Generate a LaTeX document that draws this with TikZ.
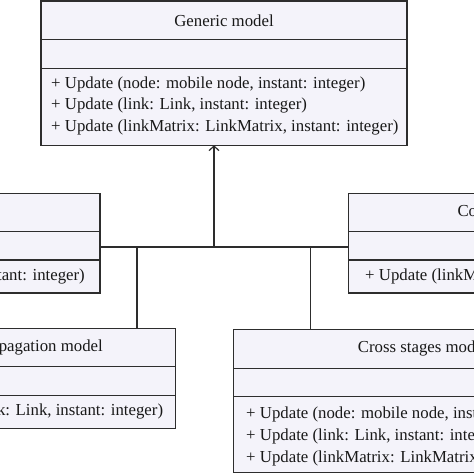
\documentclass[tikz,border=0pt]{standalone}
\usepackage{fontspec}
\setmainfont{Liberation Serif}
\usetikzlibrary{positioning,arrows.meta}
\definecolor{umlfill}{RGB}{244,243,250}
\definecolor{umlline}{RGB}{45,45,45}
\tikzset{
  umlbox/.style={draw=umlline, fill=umlfill, line width=1.3pt, rectangle, inner sep=0pt, outer sep=0pt},
  umltext/.style={font=\fontsize{16.8}{21.8}\selectfont, inner sep=0pt, align=left, text=black!90},
  conn/.style={draw=umlline, line width=1.2pt}
}
\begin{document}
\begin{tikzpicture}[x=1pt, y=-1pt]
  \useasboundingbox (0,0) rectangle (474,474);
  \fill[white] (0,0) rectangle (474,474);
  \clip (0,0) rectangle (474,474);
  % generic class on top
  \node[umlbox, anchor=north west, minimum width=366, minimum height=38.3] (gen-title) at (41,1) {};
  \node[umlbox, below=0pt of gen-title, minimum width=366, minimum height=29] (gen-attr) {};
  \node[umlbox, below=0pt of gen-attr, minimum width=366, minimum height=77] (gen-ops) {};
  \node[umltext] (gen-name) at ([yshift=-1]gen-title.center) {Generic model};
  \node[umltext, anchor=west] (gen-meth) at ([xshift=10, yshift=1]gen-ops.west)
    {+ Update (node: mobile node, instant: integer)\\
     + Update (link: Link, instant: integer)\\
     + Update (linkMatrix: LinkMatrix, instant: integer)};
  % middle row
  \node[umlbox, anchor=north east, minimum width=140, minimum height=38.2] (lm-title) at (100,193.5) {};
  \node[umlbox, below=0pt of lm-title, minimum width=140, minimum height=28.3] (lm-attr) {};
  \node[umlbox, below=0pt of lm-attr, minimum width=140, minimum height=33] (lm-ops) {};
  \node[umltext, anchor=east] (lm-meth) at ([xshift=-15]lm-ops.east) {+ Update (node: mobile node, instant: integer)};
  \node[umlbox, anchor=north west, minimum width=200, minimum height=38.2] (rm-title) at (348.3,193.5) {};
  \node[umlbox, below=0pt of rm-title, minimum width=200, minimum height=28.3] (rm-attr) {};
  \node[umlbox, below=0pt of rm-attr, minimum width=200, minimum height=33] (rm-ops) {};
  \node[umltext, anchor=west] (rm-name) at ([xshift=109]rm-title.west) {Connectivity model};
  \node[umltext, anchor=west] (rm-meth) at ([xshift=16.7]rm-ops.west) {+ Update (linkMatrix: LinkMatrix, instant: integer)};
  % bottom row
  \node[umlbox, anchor=north east, minimum width=220, minimum height=38.2] (bl-title) at (175.7,328.5) {};
  \node[umlbox, below=0pt of bl-title, minimum width=220, minimum height=28.6] (bl-attr) {};
  \node[umlbox, below=0pt of bl-attr, minimum width=220, minimum height=33.2] (bl-ops) {};
  \node[umltext, anchor=east] (bl-name) at ([xshift=-72.7]bl-title.east) {Propagation model};
  \node[umltext, anchor=east] (bl-meth) at ([xshift=-12.4]bl-ops.east) {+ Update (link: Link, instant: integer)};
  \node[umlbox, anchor=north west, minimum width=300, minimum height=38.8] (br-title) at (233.3,329.5) {};
  \node[umlbox, below=0pt of br-title, minimum width=300, minimum height=28.4] (br-attr) {};
  \node[umlbox, below=0pt of br-attr, minimum width=300, minimum height=75.8] (br-ops) {};
  \node[umltext, anchor=west] (br-name) at ([xshift=124.4]br-title.west) {Cross stages model};
  \node[umltext, anchor=west] (br-meth) at ([xshift=12.7, yshift=-2]br-ops.west)
    {+ Update (node: mobile node, instant: integer)\\
     + Update (link: Link, instant: integer)\\
     + Update (linkMatrix: LinkMatrix, instant: integer)};
  % generalisation tree
  \coordinate (hub) at (214,247);
  \coordinate (bl-x) at (137,0);
  \coordinate (br-x) at (310.7,0);
  \draw[conn] (lm-attr.east |- hub) -- (rm-attr.west |- hub);
  \draw[conn] (bl-x |- hub) -- (bl-x |- bl-title.north);
  \draw[conn] (br-x |- hub) -- (br-x |- br-title.north);
  \draw[conn, -{Straight Barb[length=4.5pt, width=10pt]}] (hub) -- (hub |- gen-ops.south);
\end{tikzpicture}
\end{document}
